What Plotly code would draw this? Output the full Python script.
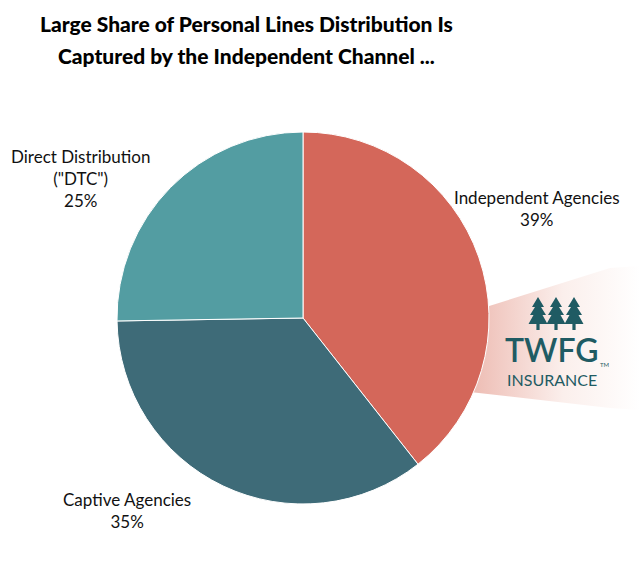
import plotly.graph_objects as go

labels = ["Independent Agencies", "Captive Agencies", "Direct Distribution<br>(\"DTC\")"]
values = [39, 35, 25]
colors = ["#D4675A", "#3E6B78", "#539DA2"]
label_pos = [(537, 208), (127, 510), (80, 178)]  # label anchor centers (px)
title_lines = ["Large Share of Personal Lines Distribution Is", "Captured by the Independent Channel ..."]

W, H = 640, 564
fig = go.Figure()

# Gradient wedge behind logo
fig.add_trace(go.Scatter(
    x=[470, 610, 640, 640, 610, 470], y=[312, 268, 266, 410, 408, 392],
    fill="toself", mode="lines", line=dict(width=0),
    fillgradient=dict(type="horizontal", colorscale=[[0, "#EDBBB2"], [0.55, "#FBEFEC"], [1, "#FFFFFF"]]),
    hoverinfo="skip", showlegend=False))

# Trees
logo = "#1F5B63"
for cx in [538, 556, 574]:
    ty = 297
    xs = [cx, cx+6, cx+3, cx+8, cx+4.5, cx+9.5, cx+1.6, cx+1.6, cx-1.6, cx-1.6, cx-9.5, cx-4.5, cx-8, cx-3, cx-6, cx]
    ys = [ty, ty+10, ty+10, ty+18, ty+18, ty+27, ty+27, ty+33, ty+33, ty+27, ty+27, ty+18, ty+18, ty+10, ty+10, ty]
    fig.add_trace(go.Scatter(x=xs, y=ys, fill="toself", mode="lines", line=dict(width=0, color=logo),
                             fillcolor=logo, hoverinfo="skip", showlegend=False))

fig.add_trace(go.Pie(
    labels=labels, values=values, sort=False, direction="clockwise", rotation=0,
    marker=dict(colors=colors, line=dict(color="white", width=1)),
    textinfo="none", hoverinfo="label+percent", showlegend=False,
    domain=dict(x=[117/W, 489/W], y=[1-505/H, 1-131/H])))

ann = []
for (lab, v, (x, y)) in zip(labels, values, label_pos):
    ann.append(dict(x=x, y=y, xref="x", yref="y", text=f"{lab}<br>{v}%", showarrow=False,
                    font=dict(family="Lato", size=17, color="#111111"), align="center"))
for line, y in zip(title_lines, [23, 55]):
    ann.append(dict(x=246, y=y, xref="x", yref="y", text=line,
                    showarrow=False, font=dict(family="Lato", size=21, color="#000000", weight=900)))
ann.append(dict(x=552, y=349, xref="x", yref="y", text="TWFG", showarrow=False,
                font=dict(family="Lato", size=32, color=logo, weight=600)))
ann.append(dict(x=605, y=364, xref="x", yref="y", text="TM", showarrow=False,
                font=dict(family="Lato", size=6, color=logo)))
ann.append(dict(x=552, y=379, xref="x", yref="y", text="INSURANCE", showarrow=False,
                font=dict(family="Lato", size=16, color=logo)))

fig.update_layout(
    width=W, height=H, margin=dict(l=0, r=0, t=0, b=0),
    paper_bgcolor="white", plot_bgcolor="rgba(0,0,0,0)",
    xaxis=dict(range=[0, W], visible=False, domain=[0, 1], fixedrange=True),
    yaxis=dict(range=[H, 0], visible=False, domain=[0, 1], fixedrange=True),
    annotations=ann)

fig.write_html("out.html")
